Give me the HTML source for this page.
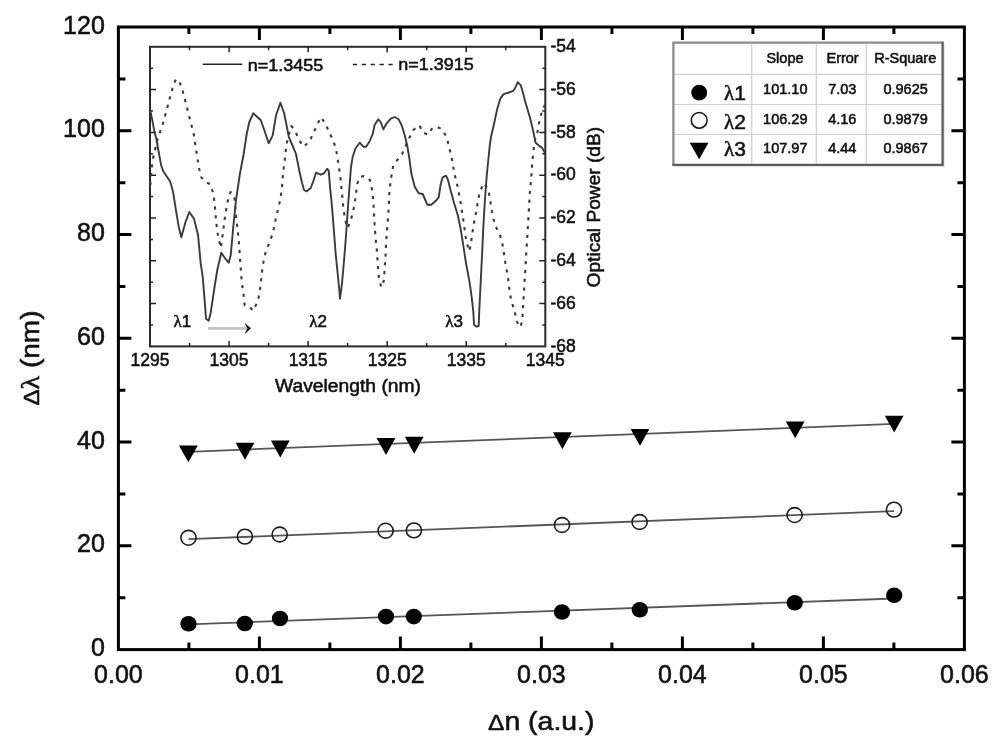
<!DOCTYPE html><html><head><meta charset="utf-8"><style>html,body{margin:0;padding:0;background:#fff;}svg{display:block}text{font-family:'Liberation Sans', Arial, sans-serif;fill:#111;stroke:#111;stroke-width:0.55px}</style></head><body>
<svg width="1000" height="750" viewBox="0 0 1000 750">
<rect width="1000" height="750" fill="#fff"/>
<rect x="118.4" y="27" width="846" height="622.6" fill="none" stroke="#000" stroke-width="3"/>
<path d="M188.9 649.6v-7M188.9 27v7M259.4 649.6v-13M259.4 27v13M329.9 649.6v-7M329.9 27v7M400.4 649.6v-13M400.4 27v13M470.9 649.6v-7M470.9 27v7M541.4 649.6v-13M541.4 27v13M611.9 649.6v-7M611.9 27v7M682.4 649.6v-13M682.4 27v13M752.9 649.6v-7M752.9 27v7M823.4 649.6v-13M823.4 27v13M893.9 649.6v-7M893.9 27v7M118.4 597.72h7M964.4 597.72h-7M118.4 545.83h13M964.4 545.83h-13M118.4 493.95h7M964.4 493.95h-7M118.4 442.07h13M964.4 442.07h-13M118.4 390.18h7M964.4 390.18h-7M118.4 338.3h13M964.4 338.3h-13M118.4 286.42h7M964.4 286.42h-7M118.4 234.53h13M964.4 234.53h-13M118.4 182.65h7M964.4 182.65h-7M118.4 130.77h13M964.4 130.77h-13M118.4 78.88h7M964.4 78.88h-7" stroke="#000" stroke-width="3" fill="none"/>
<text x="118.4" y="682.6" font-size="25" text-anchor="middle">0.00</text>
<text x="259.4" y="682.6" font-size="25" text-anchor="middle">0.01</text>
<text x="400.4" y="682.6" font-size="25" text-anchor="middle">0.02</text>
<text x="541.4" y="682.6" font-size="25" text-anchor="middle">0.03</text>
<text x="682.4" y="682.6" font-size="25" text-anchor="middle">0.04</text>
<text x="823.4" y="682.6" font-size="25" text-anchor="middle">0.05</text>
<text x="964.4" y="682.6" font-size="25" text-anchor="middle">0.06</text>
<text x="104.8" y="656.2" font-size="25" text-anchor="end">0</text>
<text x="104.8" y="552.43" font-size="25" text-anchor="end">20</text>
<text x="104.8" y="448.67" font-size="25" text-anchor="end">40</text>
<text x="104.8" y="344.9" font-size="25" text-anchor="end">60</text>
<text x="104.8" y="241.13" font-size="25" text-anchor="end">80</text>
<text x="104.8" y="137.37" font-size="25" text-anchor="end">100</text>
<text x="104.8" y="33.6" font-size="25" text-anchor="end">120</text>
<text x="488" y="730.4" font-size="25.5" textLength="106.5" lengthAdjust="spacingAndGlyphs"><tspan font-size="22">Δ</tspan>n (a.u.)</text>
<text transform="translate(38.5,405.5) rotate(-90)" font-size="25.5" textLength="95" lengthAdjust="spacingAndGlyphs"><tspan font-size="22">Δ</tspan><tspan font-family="'Liberation Serif', 'Times New Roman', serif">λ</tspan> (nm)</text>
<g stroke="#555" stroke-width="1.8" fill="none">
<path d="M188.5 624.3L894 598.5"/>
<path d="M188.5 539.2L894 511.1"/>
<path d="M188.5 451.8L894 423.9"/>
</g>
<ellipse cx="188.5" cy="623.8" rx="8.15" ry="7.8" fill="#000"/>
<ellipse cx="244.8" cy="623.5" rx="8.15" ry="7.8" fill="#000"/>
<ellipse cx="280" cy="618.5" rx="8.15" ry="7.8" fill="#000"/>
<ellipse cx="386" cy="616.6" rx="8.15" ry="7.8" fill="#000"/>
<ellipse cx="413.8" cy="616.6" rx="8.15" ry="7.8" fill="#000"/>
<ellipse cx="562" cy="612" rx="8.15" ry="7.8" fill="#000"/>
<ellipse cx="639.8" cy="609.8" rx="8.15" ry="7.8" fill="#000"/>
<ellipse cx="794.75" cy="602.75" rx="8.15" ry="7.8" fill="#000"/>
<ellipse cx="894.2" cy="595.25" rx="8.15" ry="7.8" fill="#000"/>
<ellipse cx="188.5" cy="537.8" rx="7.6" ry="7.4" fill="none" stroke="#1a1a1a" stroke-width="1.55"/>
<ellipse cx="244.9" cy="536.6" rx="7.6" ry="7.4" fill="none" stroke="#1a1a1a" stroke-width="1.55"/>
<ellipse cx="279.7" cy="534.5" rx="7.6" ry="7.4" fill="none" stroke="#1a1a1a" stroke-width="1.55"/>
<ellipse cx="385.6" cy="530.7" rx="7.6" ry="7.4" fill="none" stroke="#1a1a1a" stroke-width="1.55"/>
<ellipse cx="413.9" cy="530.4" rx="7.6" ry="7.4" fill="none" stroke="#1a1a1a" stroke-width="1.55"/>
<ellipse cx="562" cy="525" rx="7.6" ry="7.4" fill="none" stroke="#1a1a1a" stroke-width="1.55"/>
<ellipse cx="639.6" cy="522" rx="7.6" ry="7.4" fill="none" stroke="#1a1a1a" stroke-width="1.55"/>
<ellipse cx="794.6" cy="515" rx="7.6" ry="7.4" fill="none" stroke="#1a1a1a" stroke-width="1.55"/>
<ellipse cx="894" cy="509.6" rx="7.6" ry="7.4" fill="none" stroke="#1a1a1a" stroke-width="1.55"/>
<path d="M179 445.45h18.8l-9.4 16.9z" fill="#000"/>
<path d="M235.6 442.75h18.8l-9.4 16.9z" fill="#000"/>
<path d="M270.9 440.55h18.8l-9.4 16.9z" fill="#000"/>
<path d="M376.6 438.05h18.8l-9.4 16.9z" fill="#000"/>
<path d="M404.8 436.75h18.8l-9.4 16.9z" fill="#000"/>
<path d="M553 432.25h18.8l-9.4 16.9z" fill="#000"/>
<path d="M630.6 428.95h18.8l-9.4 16.9z" fill="#000"/>
<path d="M785.8 421.45h18.8l-9.4 16.9z" fill="#000"/>
<path d="M884.8 415.65h18.8l-9.4 16.9z" fill="#000"/>
<rect x="150" y="46.8" width="395.3" height="299.6" fill="#fff" stroke="#2a2a2a" stroke-width="2"/>
<path d="M189.53 346.4v-3.5M189.53 46.8v3.5M229.06 346.4v-5.5M229.06 46.8v5.5M268.59 346.4v-3.5M268.59 46.8v3.5M308.12 346.4v-5.5M308.12 46.8v5.5M347.65 346.4v-3.5M347.65 46.8v3.5M387.18 346.4v-5.5M387.18 46.8v5.5M426.71 346.4v-3.5M426.71 46.8v3.5M466.24 346.4v-5.5M466.24 46.8v5.5M505.77 346.4v-3.5M505.77 46.8v3.5M150 68.2h3M545.3 68.2h-3M150 89.6h6M545.3 89.6h-6M150 111h3M545.3 111h-3M150 132.4h6M545.3 132.4h-6M150 153.8h3M545.3 153.8h-3M150 175.2h6M545.3 175.2h-6M150 196.6h3M545.3 196.6h-3M150 218h6M545.3 218h-6M150 239.4h3M545.3 239.4h-3M150 260.8h6M545.3 260.8h-6M150 282.2h3M545.3 282.2h-3M150 303.6h6M545.3 303.6h-6M150 325h3M545.3 325h-3" stroke="#222" stroke-width="1.5" fill="none"/>
<text x="150" y="366" font-size="17.5" text-anchor="middle">1295</text>
<text x="229.06" y="366" font-size="17.5" text-anchor="middle">1305</text>
<text x="308.12" y="366" font-size="17.5" text-anchor="middle">1315</text>
<text x="387.18" y="366" font-size="17.5" text-anchor="middle">1325</text>
<text x="466.24" y="366" font-size="17.5" text-anchor="middle">1335</text>
<text x="545.3" y="366" font-size="17.5" text-anchor="middle">1345</text>
<text x="550.5" y="52" font-size="17.5">-54</text>
<text x="550.5" y="94.8" font-size="17.5">-56</text>
<text x="550.5" y="137.6" font-size="17.5">-58</text>
<text x="550.5" y="180.4" font-size="17.5">-60</text>
<text x="550.5" y="223.2" font-size="17.5">-62</text>
<text x="550.5" y="266" font-size="17.5">-64</text>
<text x="550.5" y="308.8" font-size="17.5">-66</text>
<text x="550.5" y="351.6" font-size="17.5">-68</text>
<text x="275" y="392.4" font-size="18" textLength="146" lengthAdjust="spacingAndGlyphs">Wavelength (nm)</text>
<text transform="translate(600.3,287.4) rotate(-90)" font-size="18.6" textLength="160.5" lengthAdjust="spacingAndGlyphs">Optical Power (dB)</text>
<path d="M150.3 185 L151.5 170 L152.5 162 L153.5 156 L155.3 148.7 L157.3 140 L160.3 131.3 L163 123.3 L165.3 114.7 L167.7 106 L170 97.3 L172.4 88.7 L175.3 80.7 L177.5 79 L179.3 81.3 L182.4 90 L184.7 98.7 L186.9 107.3 L189.1 116 L191.3 124.7 L193.6 133.3 L194.9 142 L196.3 150.7 L197.6 159.3 L199.3 169.3 L201.3 177.3 L205.3 182 L210 184 L213.3 193.3 L214.7 204 L216 220 L217.3 232 L219.3 241.3 L220.7 248 L222.7 234.7 L224.7 218.7 L226.7 206.7 L228.7 196 L230.7 192 L234.7 198.7 L236 216 L237.3 226.7 L238.7 240 L240 258 L241.3 276.7 L242.7 288.7 L244 298 L244.7 305.3 L249.3 306.7 L253.3 310.7 L258 300.7 L260 290 L261.3 278 L262.7 266 L264.7 255.3 L267.3 248 L270 241.3 L272.7 233.3 L274.7 224 L276.7 214.7 L278.7 206.7 L280.7 197.3 L282 186.7 L283.3 170.7 L284.7 160.7 L285.7 151.3 L287 142.7 L289.3 132.7 L291.3 126 L295.3 131.3 L298.7 139.3 L303.3 146.7 L309.3 142 L313.3 133.3 L317.3 124.7 L320.7 117.3 L325.3 123.3 L328.7 131.3 L332.7 139.3 L336 148.7 L337.3 157.3 L338.7 165.3 L340.7 180 L342 193.3 L343.3 208 L345.3 220 L347.3 228 L350 222.7 L352.7 213.3 L354.7 204 L356 193.3 L357.3 184 L359.3 177.3 L364 176 L370 180 L372 189.3 L373.3 200 L374 213.3 L374.7 226.7 L376 242.7 L377 252 L377.6 262 L378.4 270.7 L379 279.3 L381.3 287.3 L383.7 281.3 L384.4 272 L385 263.3 L385.6 254.7 L386 242.7 L387.3 226.7 L388.7 209.3 L389.3 193.3 L390.7 180 L393.3 165.3 L397.3 160 L402 154 L405.3 146.7 L409.3 138 L413.3 130 L419.3 125.3 L423.3 132.7 L428 134.7 L432 128.7 L436.7 126.7 L442 129.3 L446 136 L448.7 144.7 L450.7 154 L452.7 162.7 L454 172 L456 180 L458 188 L460 198.7 L461.3 208 L462.7 216 L464 225.3 L465.3 234.7 L466.7 242.7 L469.3 251.3 L470.7 245.3 L472 236 L473.3 226.7 L474.7 218.7 L476.7 209.3 L478 200 L480 192 L483.3 183.3 L488 188.7 L490 198.7 L491.3 208 L492.9 216.5 L495.1 225.6 L499.3 233.1 L502 241.6 L503.6 250.7 L504.7 259.2 L506.3 267.7 L507.9 276.8 L508.9 286 L510 294.5 L512.1 303.1 L514.8 311.6 L516.4 321.2 L520.5 327.1 L522.3 320.1 L522.8 311.6 L523.3 302.5 L523.9 293.5 L524.4 284.9 L524.9 275.9 L525.5 266.7 L526 258.1 L526.5 249.1 L527.1 240 L527.6 231.5 L528.1 222.4 L528.7 213.3 L529.2 204.3 L529.7 194.5 L530.5 185.5 L531.3 176.9 L531.9 167.9 L532.6 158.8 L533.5 150.3 L535 140 L537.2 133.6 L538.8 124 L540.9 115.5 L542.5 109.1 L545 105" fill="none" stroke="#3a3a3a" stroke-width="2.1" stroke-dasharray="3.2 5.6" stroke-linejoin="round"/>
<path d="M150.3 110.7 L152.3 120 L154.3 131.3 L156.7 140 L157.7 147.3 L159 153.3 L161 164.7 L163 170.7 L167 176.7 L170 181.3 L171.7 186.7 L173.3 193.3 L176 210.7 L178.7 226.7 L181.3 237.3 L185.3 222.7 L189.3 212 L194 218.7 L198 234.7 L200.7 263.3 L202.7 276.7 L204 292.7 L205.3 308.7 L206 318.7 L208.7 320.7 L210.7 312.7 L212.7 299.3 L214.7 286 L217.3 270 L221.3 252.7 L225.3 258.7 L228.7 262.7 L230.7 255.3 L233.3 226.7 L236 200 L240 173.3 L243.5 155 L246.7 134 L249.3 122 L253.3 113.3 L260.7 120 L264.7 131.3 L268.7 143.3 L272.7 135.3 L276 115.3 L280.4 102.7 L284 112.7 L286.7 126 L288.7 136.7 L292.7 146 L296 154 L299.3 170.7 L302 182.7 L304 190 L306.7 191.3 L310.7 188 L313.3 181.3 L316 172.7 L320.7 174.7 L324 173.3 L327.3 168.7 L328.7 170.7 L330 186.7 L332 206.7 L334 232 L335.5 252 L337.3 270 L339.3 290 L340 298.7 L342 283.3 L344 261 L345.7 240 L348 206.7 L350 180 L350.9 168 L352.7 156.7 L355.3 148.7 L359.7 142.7 L363.3 146.7 L366 146.7 L369.3 142 L372.7 134 L374.7 124.7 L378.4 119.3 L380.7 122 L383.3 129.3 L386.7 123.3 L390.7 118.7 L394.7 117 L398.7 119.3 L402 126 L404.7 135.3 L407.3 146 L409.3 158 L411.3 173.3 L414.7 186.7 L418.7 193.3 L422.7 194 L425.3 200 L427.3 204.7 L431.3 204.7 L435.3 201.3 L438.7 197.3 L440.7 184 L442.7 177.3 L446 175.7 L448 180 L450.7 190.7 L454 202.7 L458 216 L460.7 229.3 L463.3 245.3 L466 263.3 L469.3 280.7 L471.3 294 L473.3 311.3 L474 324.7 L476.7 326.7 L478.7 326 L479.2 312 L480.2 292 L481.3 270 L482.3 250 L483.2 230 L484.3 210 L485.5 192 L486.8 175 L488.3 160 L489.7 146 L491 137 L494 124 L497.2 109.1 L500.4 98.4 L503.6 94.1 L508.9 92.5 L513.2 90.9 L515.3 87.7 L517.7 82.2 L520.7 85.1 L522.8 92 L524.9 100.5 L528.1 111.2 L530.8 120.8 L533.5 132.5 L535.6 142.8 L538.8 145.5 L542 147.6 L545 153" fill="none" stroke="#3a3a3a" stroke-width="1.9" stroke-linejoin="round"/>
<path d="M202.7 64.3H242.3" stroke="#222" stroke-width="1.5"/>
<text x="247.8" y="70.6" font-size="17.2" textLength="75.5" lengthAdjust="spacingAndGlyphs">n=1.3455</text>
<path d="M352.8 64.5H394" stroke="#222" stroke-width="1.5" stroke-dasharray="4.3 4.6"/>
<text x="398.3" y="70.3" font-size="17.2" textLength="75.5" lengthAdjust="spacingAndGlyphs">n=1.3915</text>
<text x="173.5" y="326.8" font-size="17"><tspan font-family="'Liberation Serif', 'Times New Roman', serif">λ</tspan>1</text>
<text x="309.3" y="326.8" font-size="17"><tspan font-family="'Liberation Serif', 'Times New Roman', serif">λ</tspan>2</text>
<text x="445.3" y="326.8" font-size="17"><tspan font-family="'Liberation Serif', 'Times New Roman', serif">λ</tspan>3</text>
<path d="M208 328.3H247" stroke="#c4c4c4" stroke-width="2.8"/><path d="M244.2 322.6L251 328.3L244.4 334.6L247.4 328.3z" fill="#111"/>
<rect x="673.4" y="42.6" width="269.2" height="122.2" fill="#fff" stroke="none"/>
<path d="M674.9 166.4H944.2V44.1" fill="none" stroke="#e6e6e6" stroke-width="1.5"/>
<g stroke="#cfcfcf" stroke-width="1.2">
<path d="M674.4 74.3H941.6"/>
<path d="M674.4 104.5H941.6"/>
<path d="M674.4 134.5H941.6"/>
<path d="M751.7 43.6V163.8"/>
<path d="M816.3 43.6V163.8"/>
<path d="M866.2 43.6V163.8"/>
</g>
<path d="M673.4 164.8V42.6H942.6" fill="none" stroke="#8c8c8c" stroke-width="2.3"/>
<path d="M672.3 164.8H942.6V41.5" fill="none" stroke="#5c5c5c" stroke-width="2.3"/>
<text x="785" y="63.2" font-size="14.5" text-anchor="middle">Slope</text>
<text x="842.6" y="63.2" font-size="14.5" text-anchor="middle">Error</text>
<text x="905.2" y="63.2" font-size="14.5" text-anchor="middle">R-Square</text>
<text x="785.3" y="93.5" font-size="14.5" text-anchor="middle">101.10</text>
<text x="842.3" y="93.5" font-size="14.5" text-anchor="middle">7.03</text>
<text x="905.6" y="93.5" font-size="14.5" text-anchor="middle">0.9625</text>
<text x="724" y="100.2" font-size="21"><tspan font-family="'Liberation Serif', 'Times New Roman', serif">λ</tspan>1</text>
<text x="785.3" y="123.7" font-size="14.5" text-anchor="middle">106.29</text>
<text x="842.3" y="123.7" font-size="14.5" text-anchor="middle">4.16</text>
<text x="905.6" y="123.7" font-size="14.5" text-anchor="middle">0.9879</text>
<text x="724" y="128.5" font-size="21"><tspan font-family="'Liberation Serif', 'Times New Roman', serif">λ</tspan>2</text>
<text x="785.3" y="153.3" font-size="14.5" text-anchor="middle">107.97</text>
<text x="842.3" y="153.3" font-size="14.5" text-anchor="middle">4.44</text>
<text x="905.6" y="153.3" font-size="14.5" text-anchor="middle">0.9867</text>
<text x="724" y="155.5" font-size="21"><tspan font-family="'Liberation Serif', 'Times New Roman', serif">λ</tspan>3</text>
<circle cx="699.2" cy="92.7" r="7.9" fill="#000"/>
<circle cx="699.2" cy="120.3" r="7.9" fill="none" stroke="#111" stroke-width="1.5"/>
<path d="M689.8 142.8H708.5L699.15 159.2z" fill="#000"/>
</svg></body></html>
